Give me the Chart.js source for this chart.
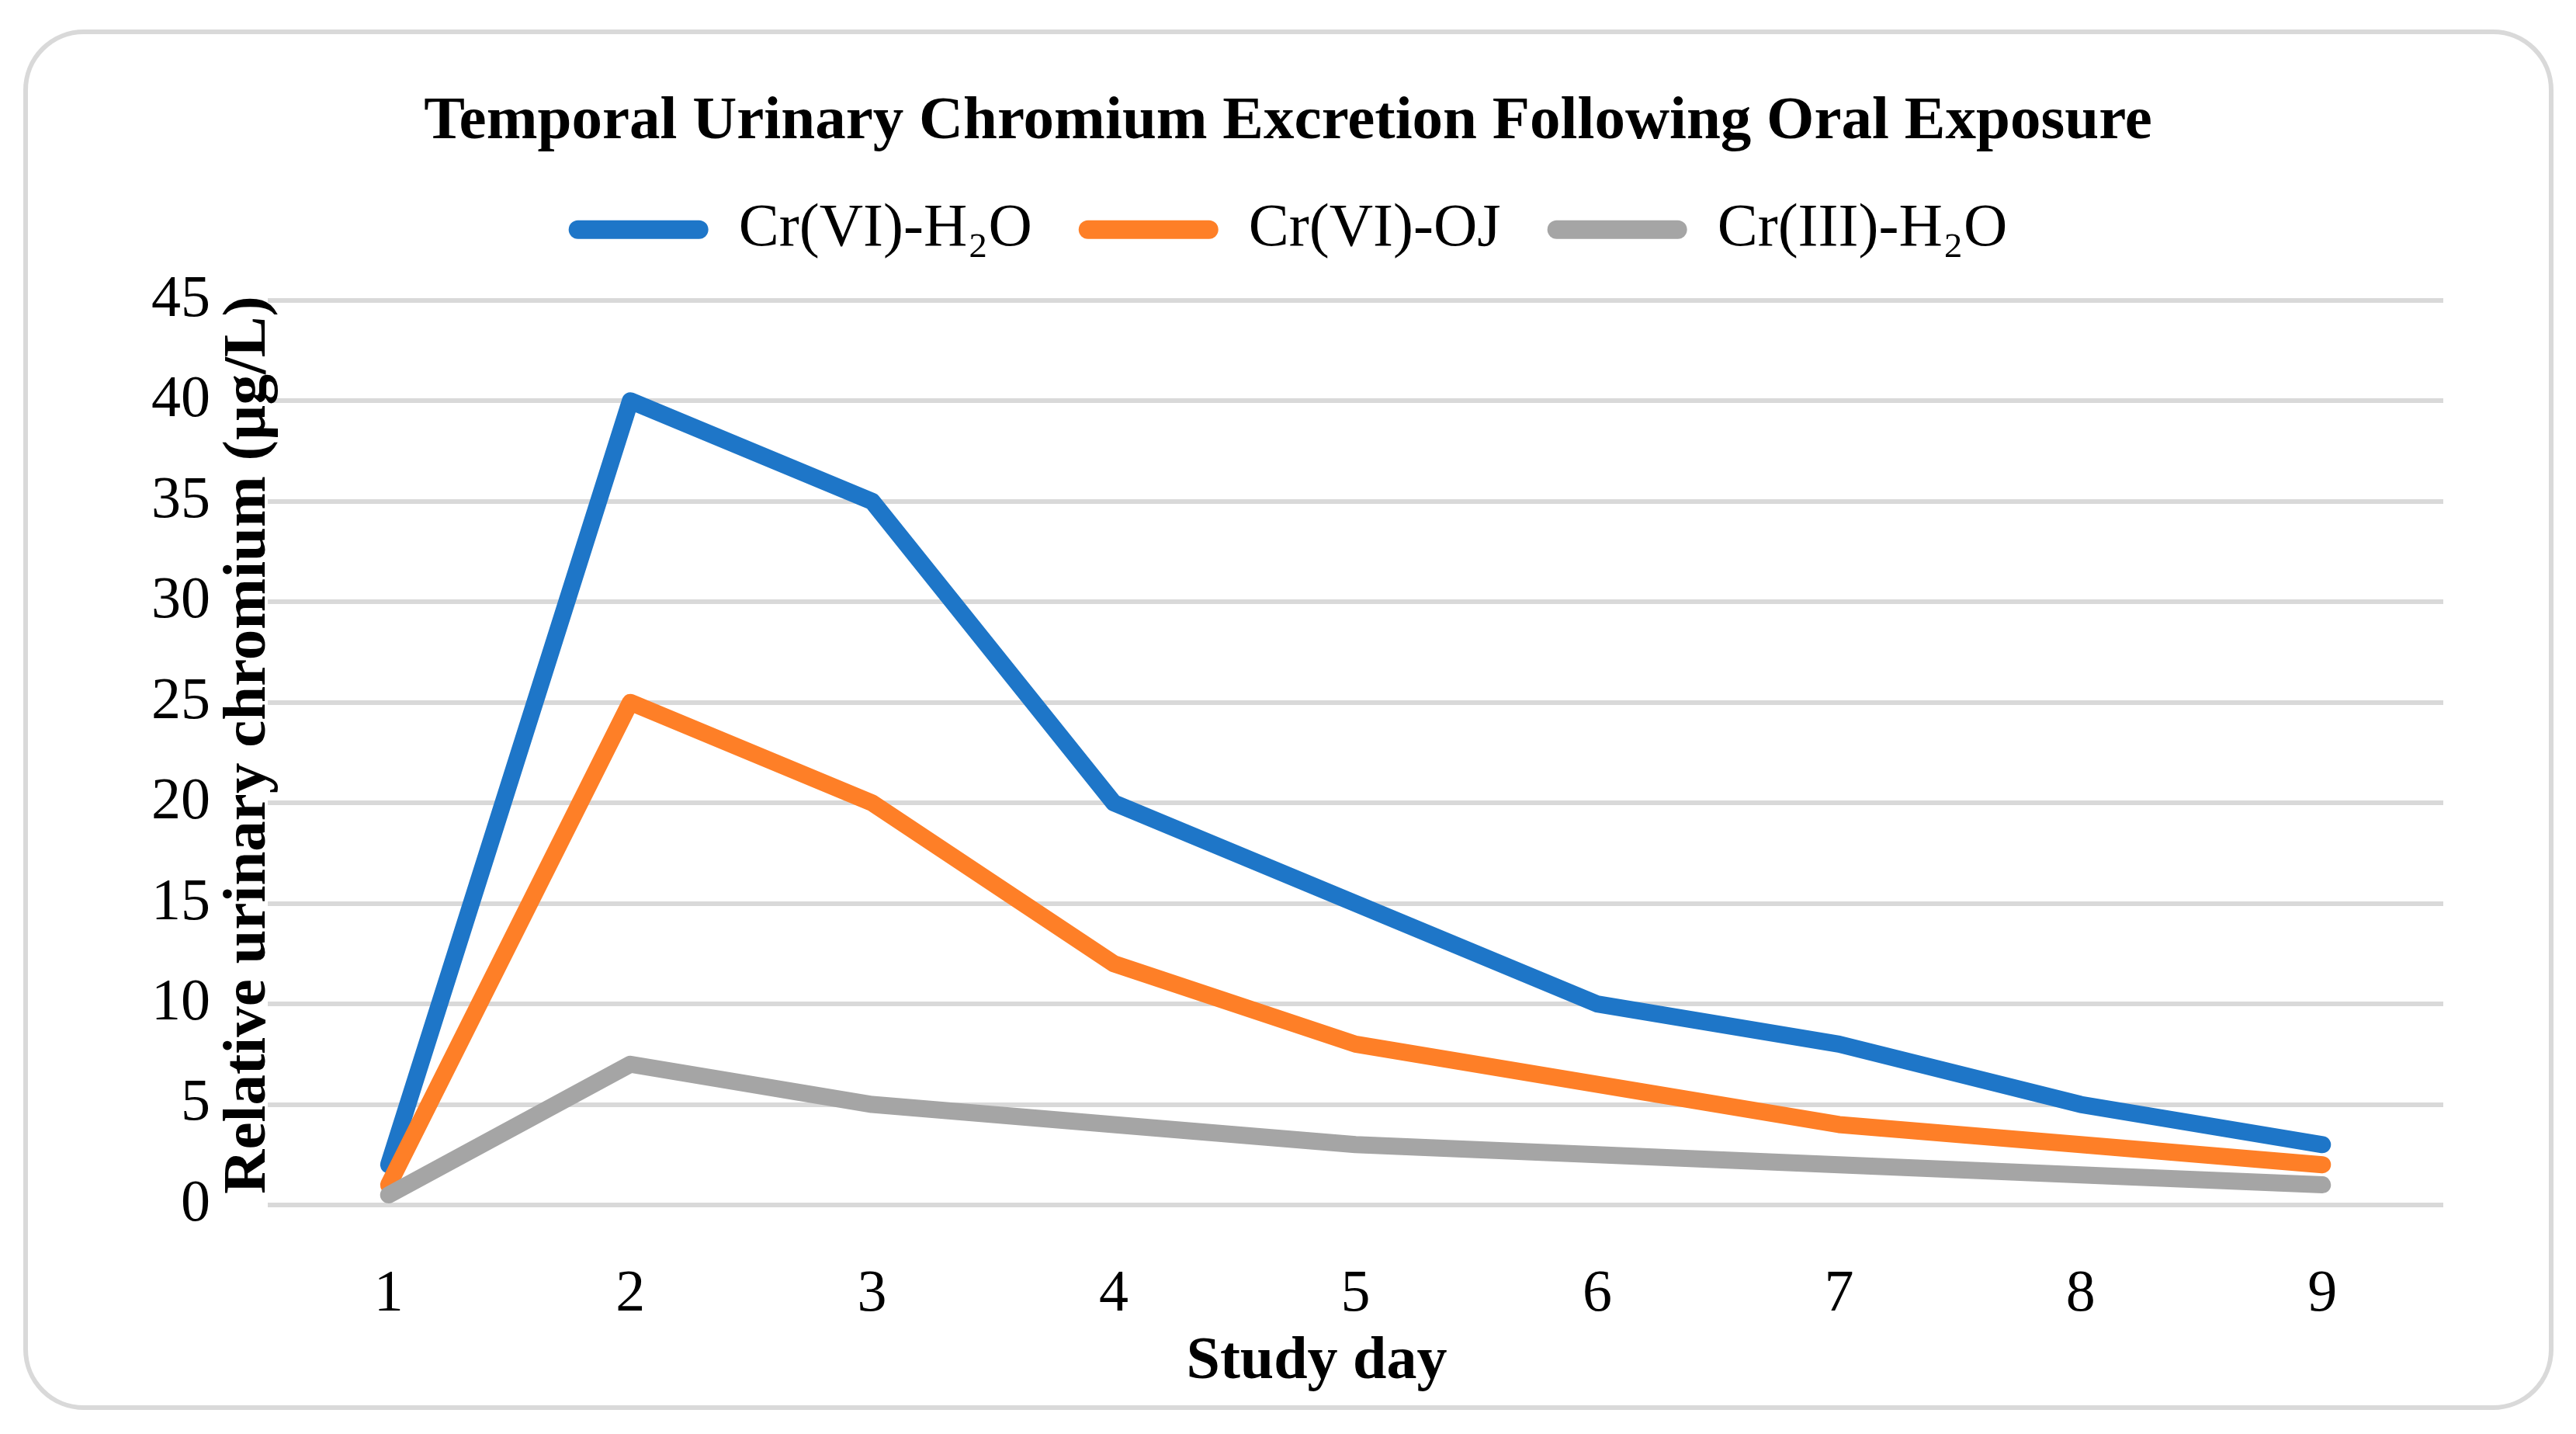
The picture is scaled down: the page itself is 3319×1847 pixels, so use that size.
<!DOCTYPE html>
<html>
<head>
<meta charset="utf-8">
<script src="https://cdn.jsdelivr.net/npm/chart.js@4.4.0/dist/chart.umd.min.js"></script>
<style>
  html, body { margin: 0; padding: 0; background: #fff; }
  #wrap { width: 3319px; height: 1847px; position: relative; }
</style>
</head>
<body>
<div id="wrap"><canvas id="urine-chart"></canvas></div>
<script>
// values
const studyDays = ['1', '2', '3', '4', '5', '6', '7', '8', '9'];
const crVIWater = [2, 40, 35, 20, 15, 10, 8, 5, 3];
const crVIJuice = [1, 25, 20, 12, 8, 6, 4, 3, 2];
const crIIIWater = [0.5, 7, 5, 4, 3, 2.5, 2, 1.5, 1];
const seriesNames = ['Cr(VI)-H\u2082O', 'Cr(VI)-OJ', 'Cr(III)-H\u2082O'];
const seriesColors = ['#1e76c8', '#fe7f27', '#a5a5a5'];

const FONT = "'Liberation Serif', 'Times New Roman', serif";
Chart.defaults.font.family = FONT;
Chart.defaults.color = '#000';

// rounded frame round the whole figure
const framePlugin = {
    id: 'frame',
    beforeDraw(chart) {
        const ctx = chart.ctx;
        ctx.save();
        ctx.fillStyle = '#fff';
        ctx.fillRect(0, 0, chart.width, chart.height);
        ctx.beginPath();
        ctx.roundRect(33, 41, 3254, 1772, 75);
        ctx.lineWidth = 6;
        ctx.strokeStyle = '#d9d9d9';
        ctx.stroke();
        ctx.restore();
    }
};

// extra room under the legend
const legendGap = {
    id: 'legendGap',
    beforeInit(chart) {
        const origFit = chart.legend.fit;
        chart.legend.fit = function () {
            origFit.bind(chart.legend)();
            this.height += 42;
        };
    }
};

// axis titles are placed by hand (y title sits between ticks and plot,
// x title is not centred on the plot)
const axisTitles = {
    id: 'axisTitles',
    afterDraw(chart) {
        const area = chart.chartArea;
        const ctx = chart.ctx;
        ctx.save();
        ctx.fillStyle = '#000';
        ctx.textAlign = 'center';
        ctx.textBaseline = 'middle';
        ctx.font = 'bold 78px ' + FONT;
        ctx.fillText('Study day', chart.width / 2 + 37, area.bottom + 203);

        ctx.translate(area.left - 24, (area.top + area.bottom) / 2 - 10);
        ctx.rotate(-Math.PI / 2);
        ctx.font = 'bold 79px ' + FONT;
        ctx.fillText('Relative urinary chromium (\u00b5g/L)', 0, 0);
        ctx.restore();
    }
};

const allSeries = [crVIWater, crVIJuice, crIIIWater];
const datasets = allSeries.map((vals, i) => ({
    label: seriesNames[i],
    data: vals,
    borderColor: seriesColors[i],
    backgroundColor: seriesColors[i],
    borderWidth: 22,
    borderCapStyle: 'round',
    borderJoinStyle: 'round',
    pointRadius: 0,
    fill: false,
    tension: 0
})).reverse();

new Chart(document.getElementById('urine-chart'), {
    type: 'line',
    data: { labels: studyDays, datasets: datasets },
    options: {
        responsive: true,
        maintainAspectRatio: false,
        animation: false,
        layout: { padding: { top: 40, left: 146, right: 146, bottom: 0 } },
        plugins: {
            title: {
                display: true,
                text: 'Temporal Urinary Chromium Excretion Following Oral Exposure',
                font: { size: 79, weight: 'bold' },
                padding: { top: 70, bottom: -8 }
            },
            legend: {
                display: true,
                reverse: true,
                labels: {
                    boxWidth: 180,
                    boxHeight: 24,
                    useBorderRadius: true,
                    borderRadius: 12,
                    padding: 60,
                    font: { size: 78 },
                    generateLabels(chart) {
                        return chart.data.datasets.map((ds, i) => ({
                            text: ds.label,
                            fillStyle: ds.borderColor,
                            strokeStyle: ds.borderColor,
                            lineWidth: 0,
                            borderRadius: 12,
                            fontColor: '#000',
                            hidden: false,
                            datasetIndex: i
                        }));
                    }
                }
            },
            tooltip: { enabled: false }
        },
        scales: {
            x: {
                offset: true,
                grid: { display: false, drawTicks: false },
                border: { display: false },
                ticks: { font: { size: 76 }, padding: 70 },
                afterFit(scale) {
                    scale.height = 295;
                }
            },
            y: {
                min: 0,
                max: 45,
                ticks: { stepSize: 5, font: { size: 76 }, padding: 74 },
                grid: { color: '#d9d9d9', lineWidth: 6, drawTicks: false },
                border: { display: false },
                afterFit(scale) {
                    scale.width = 199;
                }
            },
            // empty axis, only keeps a margin on the right of the plot
            yPad: {
                type: 'linear',
                position: 'right',
                grid: { display: false },
                border: { display: false },
                ticks: { display: false },
                afterFit(scale) {
                    scale.width = 25;
                }
            }
        }
    },
    plugins: [framePlugin, legendGap, axisTitles]
});
</script>
</body>
</html>
